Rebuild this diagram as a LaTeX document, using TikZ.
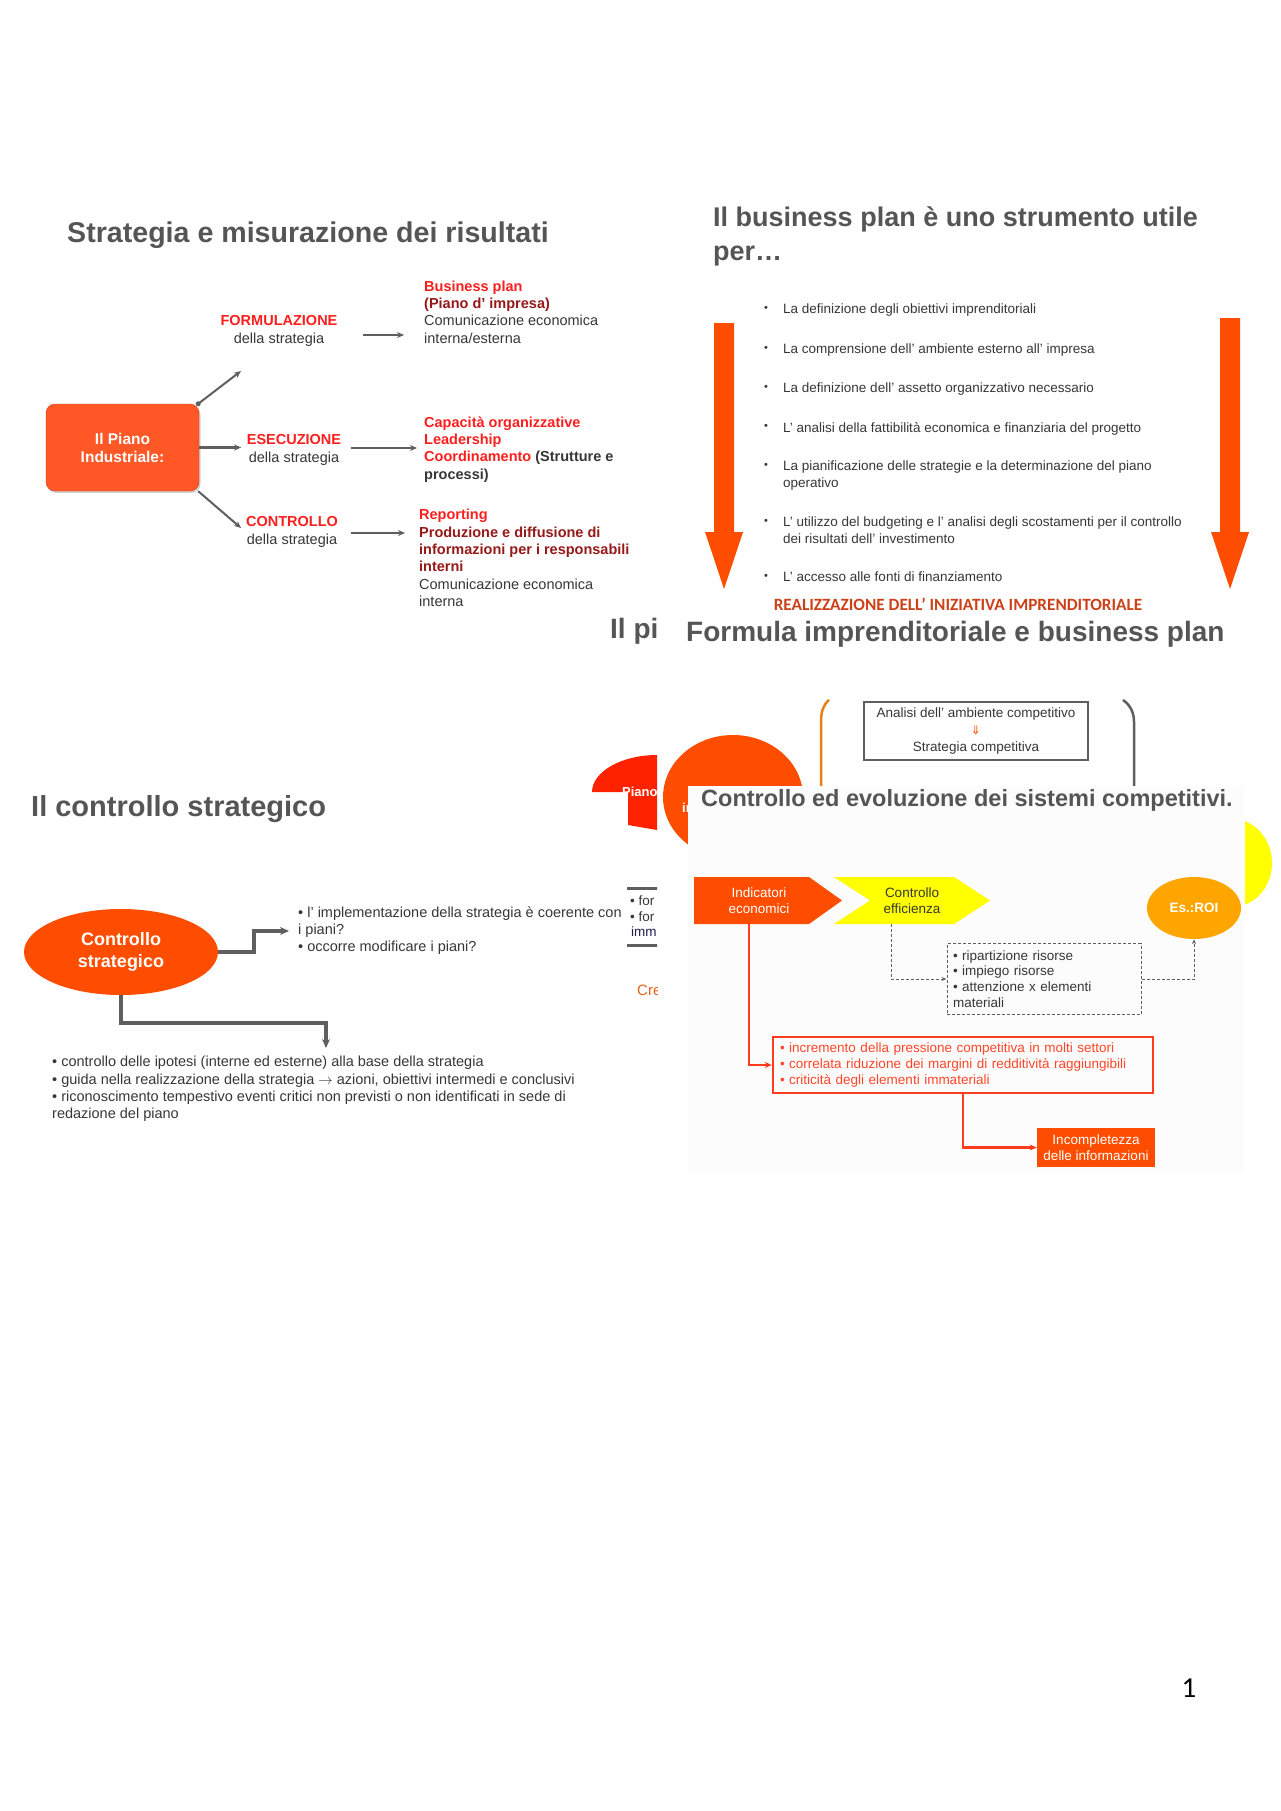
\documentclass[tikz,border=0pt]{standalone}
\usepackage{fontspec}
\setmainfont{Liberation Sans}
\newfontfamily\calib{Carlito}
\newfontfamily\djv{DejaVu Sans}
\usepackage{xcolor}
\usepackage{tikz}
\usetikzlibrary{arrows.meta,positioning,shapes.geometric,shadows,calc}

\newcommand{\fsz}[2]{\fontsize{#1}{#2}\selectfont}

\definecolor{slidegrey}{RGB}{85,85,85}
\definecolor{txtgrey}{RGB}{55,55,55}
\definecolor{arrgrey}{RGB}{95,95,95}
\definecolor{hotorange}{RGB}{255,77,0}
\definecolor{pianofill}{RGB}{255,88,38}
\definecolor{pianoedge}{RGB}{205,62,30}
\definecolor{brightred}{RGB}{255,30,30}
\definecolor{darkred}{RGB}{150,25,25}
\definecolor{realizz}{RGB}{205,65,25}
\definecolor{roiorange}{RGB}{255,165,0}
\definecolor{chevyellow}{RGB}{255,255,0}
\definecolor{redshape}{RGB}{255,34,0}
\definecolor{boxred}{RGB}{255,60,30}
\definecolor{redtext}{RGB}{255,70,40}
\definecolor{bracketorange}{RGB}{230,130,20}
\definecolor{navytext}{RGB}{30,30,80}
\definecolor{creorange}{RGB}{225,100,30}

\begin{document}
\begin{tikzpicture}[x=1pt, y=-1pt,
  title/.style={anchor=west, inner sep=0pt, text=slidegrey, align=left,
                font=\bfseries\fsz{#1}{34}},
  title/.default=28,
  body/.style={inner sep=0pt, text=txtgrey, align=left, font=\fsz{14.5}{17.3}},
  phase/.style={inner sep=0pt, text=txtgrey, align=center, font=\fsz{14.5}{17.3}},
  pianobox/.style={draw=pianoedge, fill=pianofill, rounded corners=9pt, text=white,
                   align=center, font=\bfseries\fsz{15.5}{18},
                   minimum width=153pt, minimum height=87pt,
                   drop shadow={opacity=0.35, shadow xshift=1.5pt, shadow yshift=-2pt}},
  thinarr/.style={-{Stealth[length=7pt, width=6pt]}, arrgrey, line width=1.5pt},
  bpdot/.style={inner sep=0pt, text=txtgrey, font=\fsz{11}{13}},
  bpitem/.style={anchor=north west, inner sep=0pt, text=txtgrey, align=left,
                 font=\fsz{13.5}{16.5}},
  flowtxt/.style={inner sep=0pt, align=center, minimum height=47pt, font=\fsz{13.5}{16}},
  dasharr/.style={-{Stealth[length=5pt, width=4pt]}, densely dashed, arrgrey, line width=1pt},
  redarr/.style={-{Stealth[length=7pt, width=6pt]}, boxred, line width=2.5pt},
  greyarr/.style={-{Stealth[length=9pt, width=8pt]}, arrgrey, line width=3.5pt},
]
\fill[white] (0,0) rectangle (1280,1811);
\useasboundingbox (0,0) rectangle (1280,1811);

% --- strategia e misurazione dei risultati
\node[title=28.6] (t1) at (67,235) {Strategia e misurazione dei risultati};
\node[pianobox] (piano) at (122.5,447.5) {Il Piano\\Industriale:};
\node[phase] (form) at (279,331) {{\color{brightred}\bfseries FORMULAZIONE}\\della strategia};
\node[phase] (esec) at (294,450) {{\color{brightred}\bfseries ESECUZIONE}\\della strategia};
\node[phase] (contr) at (292,532) {{\color{brightred}\bfseries CONTROLLO}\\della strategia};
\coordinate (formtip) at (241,371);
\coordinate (contrtip) at (241,528);
\fill[arrgrey] ([xshift=-1pt]piano.north east) circle[radius=2.5];
\draw[thinarr, line width=2pt] ([xshift=-1pt]piano.north east) -- (formtip);
\draw[thinarr, line width=2.2pt] (piano.east) -- ++(42,0);
\draw[thinarr, line width=2pt] ([xshift=-1pt]piano.south east) -- (contrtip);

\node[body, anchor=west] (bplan) at (424,312) {{\color{brightred}\bfseries Business plan}\\
  {\color{darkred}\bfseries (Piano d’ impresa)}\\Comunicazione economica\\interna/esterna};
\node[body, anchor=west] (capac) at (424,449.5) {{\color{brightred}\bfseries Capacità organizzative}\\
  {\color{brightred}\bfseries Leadership}\\
  {\color{brightred}\bfseries Coordinamento} {\bfseries (Strutture e}\\{\bfseries processi)}};
\node[body, anchor=west] (report) at (419,558) {{\color{brightred}\bfseries Reporting}\\
  {\color{darkred}\bfseries Produzione e diffusione di}\\
  {\color{darkred}\bfseries informazioni per i responsabili}\\
  {\color{darkred}\bfseries interni}\\Comunicazione economica\\interna};
\coordinate (fa1) at (363,335);
\coordinate (fa2) at (404,335);
\coordinate (ea1) at (351,448);
\coordinate (ea2) at (417,448);
\coordinate (ca1) at (351,533);
\coordinate (ca2) at (405,533);
\draw[thinarr, line width=1.2pt] (fa1) -- (fa2);
\draw[thinarr, line width=2pt] (ea1) -- (ea2);
\draw[thinarr, line width=1.2pt] (ca1) -- (ca2);

% --- il business plan e' uno strumento utile per...
\node[title=27] (t2) at (713,236) {Il business plan è uno strumento utile\\per…};
\fill[hotorange] (714,323) -- (734,323) -- (734,532) -- (743,532) -- (724,589)
  -- (705,532) -- (714,532) -- cycle;
\fill[hotorange] (1220,318) -- (1240,318) -- (1240,532) -- (1249,532) -- (1230,589)
  -- (1211,532) -- (1220,532) -- cycle;
\foreach \yy/\txt in {309/{La definizione degli obiettivi imprenditoriali},
  349/{La comprensione dell’ ambiente esterno all’ impresa},
  388/{La definizione dell’ assetto organizzativo necessario},
  427/{L’ analisi della fattibilità economica e finanziaria del progetto},
  466/{La pianificazione delle strategie e la determinazione del piano\\operativo},
  522/{L’ utilizzo del budgeting e l’ analisi degli scostamenti per il controllo\\dei risultati dell’ investimento},
  577/{L’ accesso alle fonti di finanziamento}}
{
  \node[bpdot] (bd\yy) at (766,\yy) {•};
  \node[bpitem, yshift=5pt] (bp\yy) at (783,\yy) {\txt};
}
\node[inner sep=0pt, text=realizz, font=\calib\bfseries\fsz{17.2}{20}] (realizz) at (958,604)
  {REALIZZAZIONE DELL’ INIZIATIVA IMPRENDITORIALE};

% --- formula imprenditoriale e business plan
\node[title=28] (ilpi) at (610,631) {Il pi};
\node[title=28] (t3) at (686,634) {Formula imprenditoriale e business plan};
\draw[bracketorange, line width=2.5pt] (829,700) .. controls (823,705) and (821,712) .. (821,722) -- (821,790);
\draw[arrgrey, line width=2.5pt] (1123,700) .. controls (1130,705) and (1134,712) .. (1134,722) -- (1134,790);
\node[draw=arrgrey, line width=1.5pt, minimum width=224pt, minimum height=58pt, inner sep=0pt,
      align=center, text=txtgrey, font=\fsz{13.5}{17}] (analisi) at (976,731)
  {Analisi dell’ ambiente competitivo\\{\djv\fsz{12}{14}\color{hotorange}⇓}\\Strategia competitiva};

% pieces of the slides behind
\fill[redshape] (592,792) .. controls (592,772) and (621,755) .. (657,755)
  -- (657,830) -- (628,825) -- (628,792) -- cycle;
\fill[hotorange] (733,797) ellipse[x radius=70, y radius=62];
\fill[chevyellow] (1232,863) ellipse[x radius=40, y radius=44];
\begin{scope}
  \clip (0,0) rectangle (657,1811);
  \node[inner sep=0pt, anchor=west, text=white, font=\bfseries\fsz{13}{15}] (pianofrag) at (622,792) {Piano};
  \draw[arrgrey, line width=3pt] (627,888) -- (660,888);
  \draw[arrgrey, line width=3pt] (627,945) -- (660,945);
  \node[inner sep=0pt, anchor=west, text=txtgrey, font=\fsz{13.5}{16}] (forA) at (630,901) {• for};
  \node[inner sep=0pt, anchor=west, text=txtgrey, font=\fsz{13.5}{16}] (forB) at (630,917) {• for};
  \node[inner sep=0pt, anchor=west, text=navytext, font=\fsz{13.5}{16}] (imm) at (631,932) {imm};
  \node[inner sep=0pt, anchor=west, text=creorange, font=\fsz{15}{18}] (cre) at (637,990) {Cre};
\end{scope}
\node[inner sep=0pt, anchor=west, text=white, font=\bfseries\fsz{13}{15}] (infrag) at (682,808) {in};

% --- controllo ed evoluzione dei sistemi competitivi
\fill[black!1] (688,786) rectangle (1245,1172);
\node[title=23.5] (t4) at (701,800) {Controllo ed evoluzione dei sistemi competitivi.};
\fill[chevyellow] (834,877) -- (954,877) -- (990,900.5) -- (954,924) -- (834,924) -- (870,900.5) -- cycle;
\fill[hotorange] (694,877) -- (809,877) -- (842,900.5) -- (809,924) -- (694,924) -- cycle;
\node[flowtxt, minimum width=130pt, text=white] (indic) at (759,900.5) {Indicatori\\economici};
\node[flowtxt, minimum width=156pt, text=txtgrey] (chev) at (912,900.5) {Controllo\\efficienza};
\node[ellipse, fill=roiorange, minimum width=94pt, minimum height=62pt, inner sep=0pt,
      text=white, font=\bfseries\fsz{13.5}{16}] (roi) at (1194,908) {Es.:ROI};
\node[draw=arrgrey, densely dashed, line width=1pt, minimum width=194pt, minimum height=71pt,
      inner sep=0pt, text width=182pt, align=left, text=txtgrey, font=\fsz{13.5}{15.7}] (risorse) at (1044,979)
  {• ripartizione risorse\\• impiego risorse\\• attenzione x elementi\\materiali};
\node[draw=boxred, line width=2.5pt, minimum width=380pt, minimum height=56pt, inner sep=0pt,
      text width=366pt, align=left, text=redtext, font=\fsz{13.5}{15.7}] (criticita) at (963,1065)
  {• incremento della pressione competitiva in molti settori\\
   • correlata riduzione dei margini di redditività raggiungibili\\
   • criticità degli elementi immateriali};
\node[fill=hotorange, minimum width=118pt, minimum height=39pt, inner sep=0pt, align=center,
      text=white, font=\fsz{13.5}{16}] (incompl) at (1096,1147.5) {Incompletezza\\delle informazioni};
\draw[dasharr] ([xshift=-21pt]chev.south) |- (risorse.west);
\draw[dasharr] (risorse.east) -| (roi.south);
\draw[redarr] ([xshift=-10pt]indic.south) |- (criticita.west);
\draw[redarr] (criticita.south) |- (incompl.west);

% --- il controllo strategico
\node[title=29] (t5) at (31,809) {Il controllo strategico};
\node[ellipse, fill=hotorange, minimum width=194pt, minimum height=86pt, inner sep=0pt,
      align=center, text=white, font=\bfseries\fsz{18}{22}] (cs) at (121,952) {Controllo\\strategico};
\node[body, anchor=west, font=\fsz{14.5}{17}] (domande) at (298,931)
  {• l’ implementazione della strategia è coerente con\\i piani?\\• occorre modificare i piani?};
\node[body, anchor=west, font=\fsz{14.5}{17.3}] (ipotesi) at (52,1089)
  {• controllo delle ipotesi (interne ed esterne) alla base della strategia\\
   • guida nella realizzazione della strategia \(\rightarrow\) azioni, obiettivi intermedi e conclusivi\\
   • riconoscimento tempestivo eventi critici non previsti o non identificati in sede di\\
   redazione del piano};
\coordinate (ipotesitop) at (326,1048);
\draw[greyarr, shorten >=9pt] (cs.east) -- ++(36,0) |- (domande.west);
\draw[greyarr] (cs.south) -- ++(0,28) -| (ipotesitop);

\node[inner sep=0pt, font=\calib\fsz{29}{34}] (pagenum) at (1189,1688) {1};
\end{tikzpicture}
\end{document}
